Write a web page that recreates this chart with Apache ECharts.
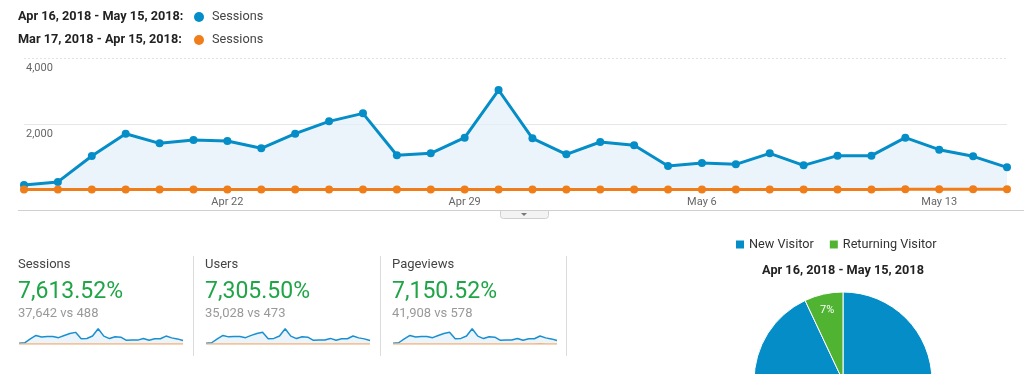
<!DOCTYPE html>
<html><head><meta charset="utf-8">
<script src="https://cdn.jsdelivr.net/npm/echarts@6/dist/echarts.min.js"></script>
<style>html,body{margin:0;padding:0;background:#fff}#c{width:1024px;height:374px}</style>
</head><body><div id="c"></div>
<script>
const categories = ["Apr 16","Apr 17","Apr 18","Apr 19","Apr 20","Apr 21","Apr 22","Apr 23","Apr 24","Apr 25","Apr 26","Apr 27","Apr 28","Apr 29","Apr 30","May 1","May 2","May 3","May 4","May 5","May 6","May 7","May 8","May 9","May 10","May 11","May 12","May 13","May 14","May 15"];
const sessionsCur = [150,245,1030,1706,1414,1515,1485,1263,1706,2080,2323,1051,1111,1586,3030,1566,1081,1455,1354,727,818,778,1111,747,1040,1040,1586,1222,1020,687];
const sessionsPrev = [14,16,15,17,16,15,16,17,16,15,14,16,17,15,16,15,17,16,15,14,16,17,16,15,18,16,24,19,22,21];
const usersCur = [142,230,960,1590,1320,1410,1380,1175,1590,1930,2160,980,1035,1475,2810,1455,1005,1350,1260,680,760,725,1035,695,965,970,1475,1135,950,640];
const usersPrev = [13,15,14,16,15,14,15,16,15,14,13,15,16,14,15,14,16,15,14,13,15,16,15,14,17,15,23,18,21,20];
const pageviewsCur = [170,275,1140,1890,1570,1680,1650,1400,1895,2310,2580,1165,1235,1760,3360,1740,1200,1615,1505,805,910,865,1235,830,1155,1155,1760,1355,1130,760];
const pageviewsPrev = [17,19,18,20,19,18,19,21,19,18,17,19,20,18,19,18,21,19,18,17,19,21,19,18,22,19,28,23,26,25];
const rangeCur = "Apr 16, 2018 - May 15, 2018";
const rangePrev = "Mar 17, 2018 - Apr 15, 2018";
const yTicks = [0, 2000, 4000];
const scorecards = [
  {title: "Sessions", change: "7,613.52%", totals: "37,642 vs 488"},
  {title: "Users", change: "7,305.50%", totals: "35,028 vs 473"},
  {title: "Pageviews", change: "7,150.52%", totals: "41,908 vs 578"}
];
const visitorTypes = ["New Visitor", "Returning Visitor"];
const visitorShares = [93, 7];

const BLUE = '#058dc7', ORANGE = '#ef7d1a', GREEN_S = '#50b432';
const FONT = 'Roboto, "Liberation Sans", sans-serif';
const chart = echarts.init(document.getElementById('c'), null, {renderer: 'canvas'});

const sparkLeft = [19, 206, 393];
const sparkSets = [[sessionsCur, sessionsPrev],[usersCur, usersPrev],[pageviewsCur, pageviewsPrev]];

const grids = [{left: 24, right: 17, top: 58, height: 132}];
const xAxes = [{
  type: 'category', data: categories, boundaryGap: false, gridIndex: 0,
  axisLine: {show: false}, axisTick: {show: false},
  axisLabel: {interval: (i) => i % 7 === 6, color: '#666', fontSize: 11, fontFamily: FONT, margin: 7}
}];
const yAxes = [{
  type: 'value', gridIndex: 0, min: yTicks[0], max: yTicks[2], interval: yTicks[1] - yTicks[0],
  axisLine: {show: false}, axisTick: {show: false},
  splitLine: {lineStyle: {color: ['rgba(0,0,0,0)', '#e6e6e6', 'rgba(0,0,0,0)'], width: 1}},
  axisLabel: {inside: true, showMinLabel: false, verticalAlign: 'top', padding: [5,0,0,0], margin: 2, color: '#666', fontSize: 11, fontFamily: FONT}
}];
const series = [
  {type: 'line', xAxisIndex: 0, yAxisIndex: 0, data: sessionsCur, name: 'cur',
   symbol: 'circle', symbolSize: 8, showSymbol: true, lineStyle: {color: BLUE, width: 3}, itemStyle: {color: BLUE},
   areaStyle: {color: '#e2f0f8'}, z: 2, silent: true,
   markLine: {silent: true, symbol: 'none', label: {show: false}, lineStyle: {color: '#e3e3e3', type: [2, 2], width: 1}, data: [{yAxis: yTicks[2]}]}},
  {type: 'line', xAxisIndex: 0, yAxisIndex: 0, data: sessionsPrev, name: 'prev',
   symbol: 'circle', symbolSize: 8, lineStyle: {color: ORANGE, width: 3}, itemStyle: {color: ORANGE}, z: 3, silent: true}
];
sparkSets.forEach((set, k) => {
  const gi = k + 1;
  grids.push({left: sparkLeft[k], width: 164, top: 327, height: 17});
  xAxes.push({type: 'category', data: categories, boundaryGap: false, gridIndex: gi, show: false});
  yAxes.push({type: 'value', gridIndex: gi, min: 0, max: Math.max(...set[0]) * 1.12, show: false, splitLine: {show: false}});
  series.push({type: 'line', xAxisIndex: gi, yAxisIndex: gi, data: set[1], showSymbol: false, lineStyle: {color: '#f6b27a', width: 1.5}, z: 2, silent: true});
  series.push({type: 'line', xAxisIndex: gi, yAxisIndex: gi, data: set[0], showSymbol: false, lineStyle: {color: '#1a8fd0', width: 1.5}, areaStyle: {color: '#e2f0f8'}, z: 1, silent: true});
});
const pieData = visitorTypes.map((n, i) => ({name: n, value: visitorShares[i]}));
series.push({
  type: 'pie', name: 'visitors', center: [843, 381], radius: [0, 89], startAngle: 90, clockwise: true,
  data: pieData, color: [BLUE, GREEN_S], silent: true,
  itemStyle: {borderColor: '#fff', borderWidth: 1},
  label: {show: false}, labelLine: {show: false}
});
series.push({
  type: 'pie', name: 'visitorsLabels', center: [843, 381], radius: [51, 89], startAngle: 90, clockwise: true,
  data: pieData, silent: true, legendHoverLink: false,
  itemStyle: {color: 'rgba(0,0,0,0)'}, emphasis: {disabled: true},
  label: {show: true, position: 'inside', color: '#fff', fontSize: 11, fontFamily: FONT,
    formatter: (p) => p.name === visitorTypes[1] ? Math.round(p.percent) + '%' : ''},
  labelLine: {show: false}
});

const graphics = [];
function txt(x, y, text, font, fill, align) {
  graphics.push({type: 'text', silent: true, style: {x, y, text, font, fill, align: align || 'left', verticalAlign: 'middle'}});
}
txt(18, 17, rangeCur + ':', 'bold 12.7px ' + FONT, '#222');
txt(18, 40, rangePrev + ':', 'bold 12.7px ' + FONT, '#222');
graphics.push({type: 'circle', silent: true, shape: {cx: 199, cy: 17, r: 5}, style: {fill: BLUE}});
graphics.push({type: 'circle', silent: true, shape: {cx: 199, cy: 40, r: 5}, style: {fill: ORANGE}});
txt(212, 17, 'Sessions', '12.7px ' + FONT, '#444');
txt(212, 40, 'Sessions', '12.7px ' + FONT, '#444');
// bottom rule with collapse tab
graphics.push({type: 'line', silent: true, shape: {x1: 18, y1: 210.5, x2: 1024, y2: 210.5}, style: {stroke: '#cfcfcf', lineWidth: 1}});
graphics.push({type: 'rect', silent: true, shape: {x: 500.5, y: 210.5, width: 48, height: 8, r: [0,0,3,3]}, style: {fill: '#f3f3f3', stroke: '#cfcfcf', lineWidth: 1}});
graphics.push({type: 'polygon', silent: true, shape: {points: [[521, 213], [527, 213], [524, 216]]}, style: {fill: '#777'}});
// scorecards
const colX = [18, 205, 392];
scorecards.forEach((s, k) => {
  txt(colX[k], 265, s.title, '13px ' + FONT, '#444');
  txt(colX[k], 292, s.change, '23px ' + FONT, '#1fa547');
  txt(colX[k], 314, s.totals, '13px ' + FONT, '#999');
});
[193.5, 380.5, 566.5].forEach(x => graphics.push({type: 'line', silent: true, shape: {x1: x, y1: 256, x2: x, y2: 356}, style: {stroke: '#dcdcdc', lineWidth: 1}}));
txt(843, 271, rangeCur, 'bold 12.7px ' + FONT, '#222', 'center');

chart.setOption({
  animation: false,
  grid: grids, xAxis: xAxes, yAxis: yAxes, series,
  legend: {data: visitorTypes, left: 729, top: 233, padding: 5, icon: 'rect', itemWidth: 10, itemHeight: 10, itemGap: 14, selectedMode: false,
    textStyle: {fontSize: 12.7, color: '#333', fontFamily: FONT, padding: [0,0,0,-1]}},
  graphic: graphics
});
</script></body></html>
